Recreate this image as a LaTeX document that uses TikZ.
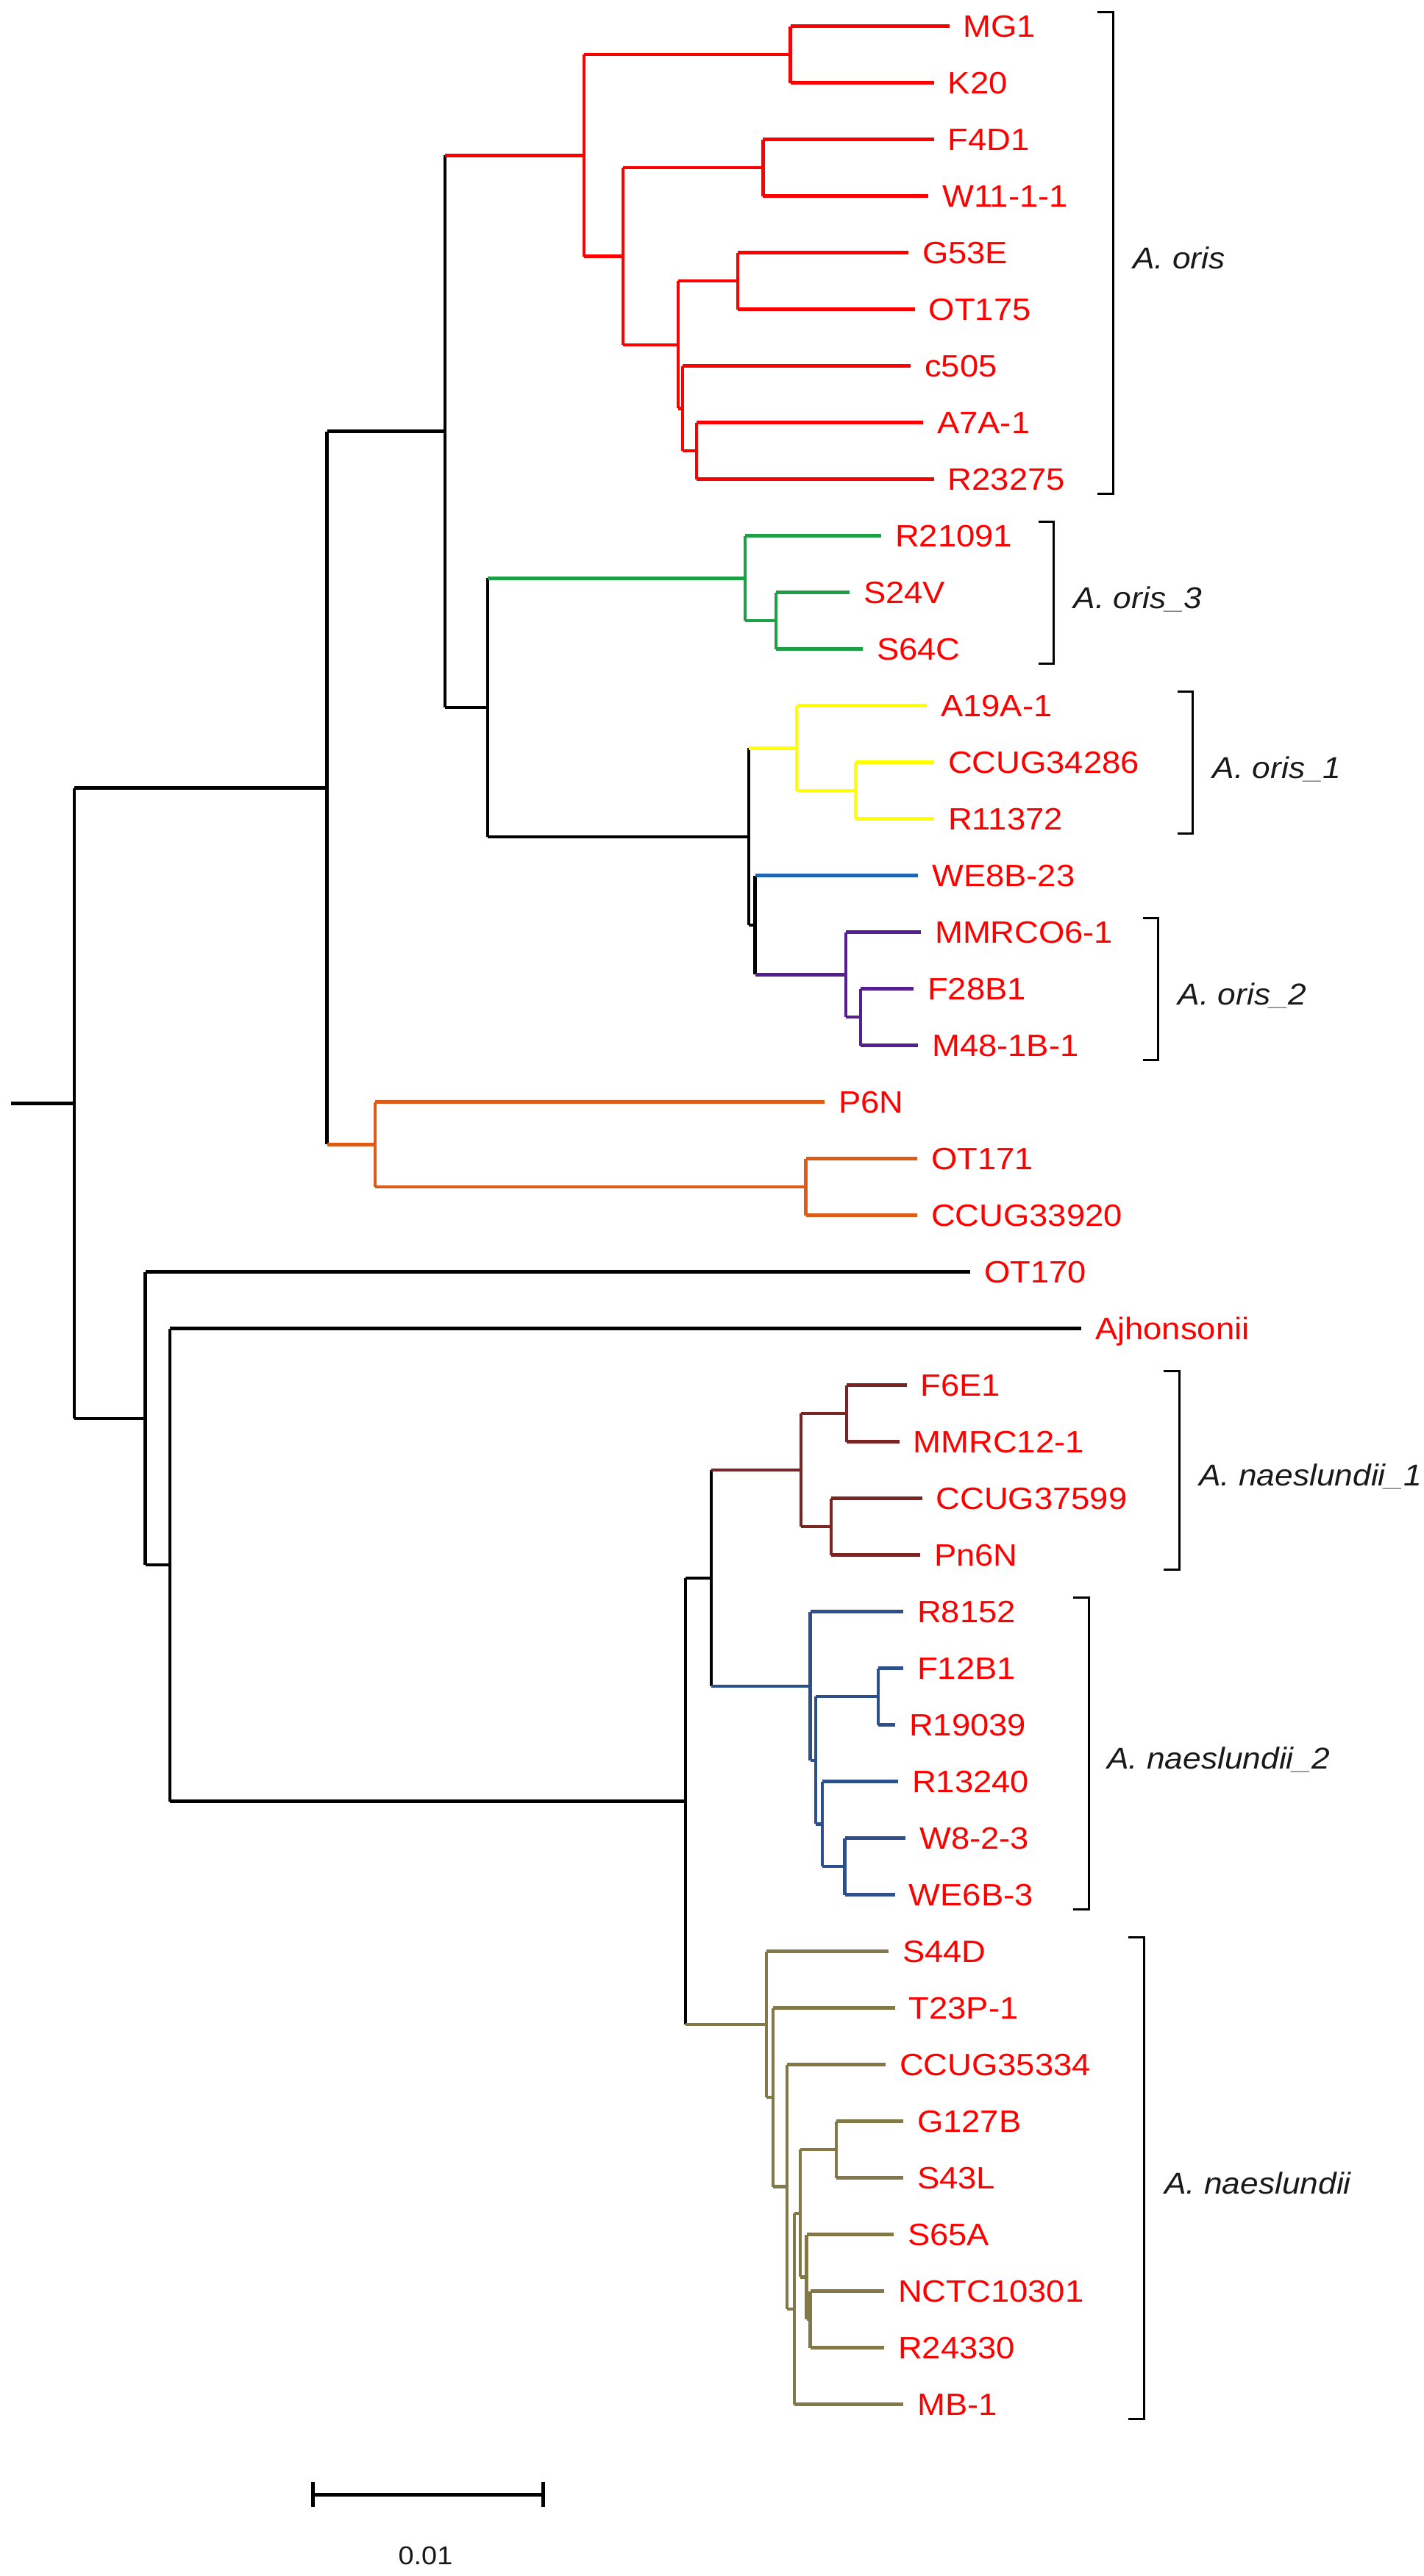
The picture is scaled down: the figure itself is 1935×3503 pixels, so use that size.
\documentclass[tikz,border=0pt]{standalone}
\usepackage{fontspec}
\setmainfont{Liberation Sans}[FakeStretch=1.08]
\usetikzlibrary{calc}
\definecolor{cred}{RGB}{255,0,0}
\definecolor{cgreen}{RGB}{30,160,70}
\definecolor{cyellow}{RGB}{255,255,0}
\definecolor{csteel}{RGB}{30,100,180}
\definecolor{cpurple}{RGB}{85,30,145}
\definecolor{corange}{RGB}{222,92,25}
\definecolor{cbrown}{RGB}{122,36,36}
\definecolor{cnavy}{RGB}{45,80,140}
\definecolor{colive}{RGB}{130,120,72}
\definecolor{ctext}{RGB}{25,25,25}
\newcommand{\vb}[4]{\draw[br,#1,line cap=square] (#2 |- #3) -- (#2 |- #4);}
\newcommand{\hb}[3]{\draw[br,#1] (#2 |- #3) -- (#3);}
\newcommand{\usc}{\textcolor{gray}{\_}}
\begin{document}
\begin{tikzpicture}[x=1pt,y=-1pt,
  br/.style={line width=4.5pt},
  lab/.style={anchor=base west,inner sep=0pt,text=cred,font=\fontsize{42}{48}\selectfont},
  clade/.style={anchor=base west,inner sep=0pt,text=ctext,font=\fontsize{41}{48}\selectfont\itshape},
  brk/.style={line width=3pt,black}]
\useasboundingbox (0,0) rectangle (1935,3503);
% leaves
\coordinate (L0) at (1290.6,35.7);
\coordinate (L1) at (1269.6,112.7);
\coordinate (L2) at (1269.6,189.7);
\coordinate (L3) at (1262,266.7);
\coordinate (L4) at (1235,343.7);
\coordinate (L5) at (1243.6,420.7);
\coordinate (L6) at (1238,497.7);
\coordinate (L7) at (1255,574.7);
\coordinate (L8) at (1269.6,651.7);
\coordinate (L9) at (1198,728.7);
\coordinate (L10) at (1155,805.7);
\coordinate (L11) at (1173,882.7);
\coordinate (L12) at (1260,959.7);
\coordinate (L13) at (1270,1036.7);
\coordinate (L14) at (1270,1113.7);
\coordinate (L15) at (1248,1190.7);
\coordinate (L16) at (1252,1267.7);
\coordinate (L17) at (1242,1344.7);
\coordinate (L18) at (1248,1421.7);
\coordinate (L19) at (1121,1498.7);
\coordinate (L20) at (1247,1575.7);
\coordinate (L21) at (1247,1652.7);
\coordinate (L22) at (1319,1729.7);
\coordinate (L23) at (1470,1806.7);
\coordinate (L24) at (1232.5,1883.7);
\coordinate (L25) at (1222.6,1960.7);
\coordinate (L26) at (1253.5,2037.7);
\coordinate (L27) at (1251,2114.7);
\coordinate (L28) at (1228,2191.7);
\coordinate (L29) at (1228,2268.7);
\coordinate (L30) at (1217,2345.7);
\coordinate (L31) at (1221,2422.7);
\coordinate (L32) at (1231,2499.7);
\coordinate (L33) at (1216.5,2576.7);
\coordinate (L34) at (1208,2653.7);
\coordinate (L35) at (1216.5,2730.7);
\coordinate (L36) at (1204,2807.7);
\coordinate (L37) at (1228,2884.7);
\coordinate (L38) at (1228,2961.7);
\coordinate (L39) at (1215,3038.7);
\coordinate (L40) at (1202,3115.7);
\coordinate (L41) at (1202,3192.7);
\coordinate (L42) at (1228,3269.7);
% internal nodes
\coordinate (r1) at (1074.5,74.2);
\coordinate (r2) at (1037.4,228.2);
\coordinate (r3) at (1003,382.2);
\coordinate (r5) at (947,613.2);
\coordinate (r4) at (928,555.45);
\coordinate (r6) at (922,468.8);
\coordinate (r7) at (847,348.5);
\coordinate (r8) at (794,211.35);
\coordinate (g1) at (1055,844.2);
\coordinate (g2) at (1013,786.45);
\coordinate (y1) at (1163,1075.2);
\coordinate (y2) at (1083,1017.45);
\coordinate (p1) at (1170,1383.2);
\coordinate (p2) at (1150,1325.45);
\coordinate (k1) at (1026.7,1258.1);
\coordinate (k2) at (1018,1137.8);
\coordinate (k3) at (663,962.1);
\coordinate (k4) at (605,586.7);
\coordinate (o1) at (1095.5,1614.2);
\coordinate (o2) at (510,1556.45);
\coordinate (k5) at (444.6,1071.6);
\coordinate (b1) at (1151,1922.2);
\coordinate (b2) at (1130,2076.2);
\coordinate (b3) at (1089,1999.2);
\coordinate (d1) at (1194,2307.2);
\coordinate (d2) at (1148.5,2538.2);
\coordinate (d3) at (1118,2480.45);
\coordinate (d4) at (1109,2393.8);
\coordinate (d5) at (1101.7,2292.75);
\coordinate (k6) at (967,2146);
\coordinate (v1) at (1137,2923.2);
\coordinate (v2) at (1101.7,3154.2);
\coordinate (v3) at (1096.7,3096.45);
\coordinate (v4) at (1088,3009.8);
\coordinate (v5) at (1080,3139.75);
\coordinate (v6) at (1070,2973.7);
\coordinate (v7) at (1051,2852.2);
\coordinate (v8) at (1042,2752.95);
\coordinate (k7) at (932,2449.5);
\coordinate (k8) at (231,2128.1);
\coordinate (k9) at (197.6,1928.9);
\coordinate (rt) at (101,1500.25);
\coordinate (r0) at (15,1500.25);
% red clade
\vb{cred}{r1}{L0}{L1} \hb{cred}{r1}{L0} \hb{cred}{r1}{L1}
\vb{cred}{r2}{L2}{L3} \hb{cred}{r2}{L2} \hb{cred}{r2}{L3}
\vb{cred}{r3}{L4}{L5} \hb{cred}{r3}{L4} \hb{cred}{r3}{L5}
\vb{cred}{r5}{L7}{L8} \hb{cred}{r5}{L7} \hb{cred}{r5}{L8}
\vb{cred}{r4}{L6}{r5} \hb{cred}{r4}{L6} \hb{cred}{r4}{r5}
\vb{cred}{r6}{r3}{r4} \hb{cred}{r6}{r3} \hb{cred}{r6}{r4}
\vb{cred}{r7}{r2}{r6} \hb{cred}{r7}{r2} \hb{cred}{r7}{r6}
\vb{cred}{r8}{r1}{r7} \hb{cred}{r8}{r1} \hb{cred}{r8}{r7}
% green
\vb{cgreen}{g1}{L10}{L11} \hb{cgreen}{g1}{L10} \hb{cgreen}{g1}{L11}
\vb{cgreen}{g2}{L9}{g1} \hb{cgreen}{g2}{L9} \hb{cgreen}{g2}{g1}
% yellow
\vb{cyellow}{y1}{L13}{L14} \hb{cyellow}{y1}{L13} \hb{cyellow}{y1}{L14}
\vb{cyellow}{y2}{L12}{y1} \hb{cyellow}{y2}{L12} \hb{cyellow}{y2}{y1}
% purple
\vb{cpurple}{p1}{L17}{L18} \hb{cpurple}{p1}{L17} \hb{cpurple}{p1}{L18}
\vb{cpurple}{p2}{L16}{p1} \hb{cpurple}{p2}{L16} \hb{cpurple}{p2}{p1}
% black backbone top
\vb{black}{k1}{L15}{p2} \hb{csteel}{k1}{L15} \hb{cpurple}{k1}{p2}
\vb{black}{k2}{y2}{k1} \hb{cyellow}{k2}{y2} \hb{black}{k2}{k1}
\vb{black}{k3}{g2}{k2} \hb{cgreen}{k3}{g2} \hb{black}{k3}{k2}
\vb{black}{k4}{r8}{k3} \hb{cred}{k4}{r8} \hb{black}{k4}{k3}
% orange
\vb{corange}{o1}{L20}{L21} \hb{corange}{o1}{L20} \hb{corange}{o1}{L21}
\vb{corange}{o2}{L19}{o1} \hb{corange}{o2}{L19} \hb{corange}{o2}{o1}
\vb{black}{k5}{k4}{o2} \hb{black}{k5}{k4} \hb{corange}{k5}{o2}
% brown
\vb{cbrown}{b1}{L24}{L25} \hb{cbrown}{b1}{L24} \hb{cbrown}{b1}{L25}
\vb{cbrown}{b2}{L26}{L27} \hb{cbrown}{b2}{L26} \hb{cbrown}{b2}{L27}
\vb{cbrown}{b3}{b1}{b2} \hb{cbrown}{b3}{b1} \hb{cbrown}{b3}{b2}
% navy
\vb{cnavy}{d1}{L29}{L30} \hb{cnavy}{d1}{L29} \hb{cnavy}{d1}{L30}
\vb{cnavy}{d2}{L32}{L33} \hb{cnavy}{d2}{L32} \hb{cnavy}{d2}{L33}
\vb{cnavy}{d3}{L31}{d2} \hb{cnavy}{d3}{L31} \hb{cnavy}{d3}{d2}
\vb{cnavy}{d4}{d1}{d3} \hb{cnavy}{d4}{d1} \hb{cnavy}{d4}{d3}
\vb{cnavy}{d5}{L28}{d4} \hb{cnavy}{d5}{L28} \hb{cnavy}{d5}{d4}
\vb{black}{k6}{b3}{d5} \hb{cbrown}{k6}{b3} \hb{cnavy}{k6}{d5}
% olive
\vb{colive}{v1}{L37}{L38} \hb{colive}{v1}{L37} \hb{colive}{v1}{L38}
\vb{colive}{v2}{L40}{L41} \hb{colive}{v2}{L40} \hb{colive}{v2}{L41}
\vb{colive}{v3}{L39}{v2} \hb{colive}{v3}{L39} \hb{colive}{v3}{v2}
\vb{colive}{v4}{v1}{v3} \hb{colive}{v4}{v1} \hb{colive}{v4}{v3}
\vb{colive}{v5}{v4}{L42} \hb{colive}{v5}{v4} \hb{colive}{v5}{L42}
\vb{colive}{v6}{L36}{v5} \hb{colive}{v6}{L36} \hb{colive}{v6}{v5}
\vb{colive}{v7}{L35}{v6} \hb{colive}{v7}{L35} \hb{colive}{v7}{v6}
\vb{colive}{v8}{L34}{v7} \hb{colive}{v8}{L34} \hb{colive}{v8}{v7}
% black backbone bottom
\vb{black}{k7}{k6}{v8} \hb{black}{k7}{k6} \hb{colive}{k7}{v8}
\vb{black}{k8}{L23}{k7} \hb{black}{k8}{L23} \hb{black}{k8}{k7}
\vb{black}{k9}{L22}{k8} \hb{black}{k9}{L22} \hb{black}{k9}{k8}
\vb{black}{rt}{k5}{k9} \hb{black}{rt}{k5} \hb{black}{rt}{k9}
\draw[br,black] (r0) -- (rt);
% labels
\node[lab] (T0) at ($(L0)+(19,15)$) {MG1};
\node[lab] (T1) at ($(L1)+(19,15)$) {K20};
\node[lab] (T2) at ($(L2)+(19,15)$) {F4D1};
\node[lab] (T3) at ($(L3)+(19,15)$) {W11-1-1};
\node[lab] (T4) at ($(L4)+(19,15)$) {G53E};
\node[lab] (T5) at ($(L5)+(19,15)$) {OT175};
\node[lab] (T6) at ($(L6)+(19,15)$) {c505};
\node[lab] (T7) at ($(L7)+(19,15)$) {A7A-1};
\node[lab] (T8) at ($(L8)+(19,15)$) {R23275};
\node[lab] (T9) at ($(L9)+(19,15)$) {R21091};
\node[lab] (T10) at ($(L10)+(19,15)$) {S24V};
\node[lab] (T11) at ($(L11)+(19,15)$) {S64C};
\node[lab] (T12) at ($(L12)+(19,15)$) {A19A-1};
\node[lab] (T13) at ($(L13)+(19,15)$) {CCUG34286};
\node[lab] (T14) at ($(L14)+(19,15)$) {R11372};
\node[lab] (T15) at ($(L15)+(19,15)$) {WE8B-23};
\node[lab] (T16) at ($(L16)+(19,15)$) {MMRCO6-1};
\node[lab] (T17) at ($(L17)+(19,15)$) {F28B1};
\node[lab] (T18) at ($(L18)+(19,15)$) {M48-1B-1};
\node[lab] (T19) at ($(L19)+(19,15)$) {P6N};
\node[lab] (T20) at ($(L20)+(19,15)$) {OT171};
\node[lab] (T21) at ($(L21)+(19,15)$) {CCUG33920};
\node[lab] (T22) at ($(L22)+(19,15)$) {OT170};
\node[lab] (T23) at ($(L23)+(19,15)$) {Ajhonsonii};
\node[lab] (T24) at ($(L24)+(19,15)$) {F6E1};
\node[lab] (T25) at ($(L25)+(19,15)$) {MMRC12-1};
\node[lab] (T26) at ($(L26)+(19,15)$) {CCUG37599};
\node[lab] (T27) at ($(L27)+(19,15)$) {Pn6N};
\node[lab] (T28) at ($(L28)+(19,15)$) {R8152};
\node[lab] (T29) at ($(L29)+(19,15)$) {F12B1};
\node[lab] (T30) at ($(L30)+(19,15)$) {R19039};
\node[lab] (T31) at ($(L31)+(19,15)$) {R13240};
\node[lab] (T32) at ($(L32)+(19,15)$) {W8-2-3};
\node[lab] (T33) at ($(L33)+(19,15)$) {WE6B-3};
\node[lab] (T34) at ($(L34)+(19,15)$) {S44D};
\node[lab] (T35) at ($(L35)+(19,15)$) {T23P-1};
\node[lab] (T36) at ($(L36)+(19,15)$) {CCUG35334};
\node[lab] (T37) at ($(L37)+(19,15)$) {G127B};
\node[lab] (T38) at ($(L38)+(19,15)$) {S43L};
\node[lab] (T39) at ($(L39)+(19,15)$) {S65A};
\node[lab] (T40) at ($(L40)+(19,15)$) {NCTC10301};
\node[lab] (T41) at ($(L41)+(19,15)$) {R24330};
\node[lab] (T42) at ($(L42)+(19,15)$) {MB-1};
% brackets
\coordinate (B1t) at (1513,16.2);   \coordinate (B1b) at (1513,671.2);
\coordinate (B2t) at (1432.6,709.2); \coordinate (B2b) at (1432.6,902.2);
\coordinate (B3t) at (1621.6,940.2); \coordinate (B3b) at (1621.6,1133.2);
\coordinate (B4t) at (1574.6,1248.2); \coordinate (B4b) at (1574.6,1441.2);
\coordinate (B5t) at (1603,1864.2); \coordinate (B5b) at (1603,2134.2);
\coordinate (B6t) at (1480,2172.2); \coordinate (B6b) at (1480,2596.2);
\coordinate (B7t) at (1555,2634.2); \coordinate (B7b) at (1555,3289.2);
\foreach \i in {1,...,7}{
  \draw[brk] ($(B\i t)+(-21,0)$) -- (B\i t) -- (B\i b) -- ($(B\i b)+(-21,0)$);
}
\node[clade] (C1) at ($(B1t)!0.5!(B1b)+(27,21.5)$) {A. oris};
\node[clade] (C2) at ($(B2t)!0.5!(B2b)+(27,21.5)$) {A. oris\usc 3};
\node[clade] (C3) at ($(B3t)!0.5!(B3b)+(27,21.5)$) {A. oris\usc 1};
\node[clade] (C4) at ($(B4t)!0.5!(B4b)+(27,21.5)$) {A. oris\usc 2};
\node[clade] (C5) at ($(B5t)!0.5!(B5b)+(27,21.5)$) {A. naeslundii\usc 1};
\node[clade] (C6) at ($(B6t)!0.5!(B6b)+(25,21.5)$) {A. naeslundii\usc 2};
\node[clade] (C7) at ($(B7t)!0.5!(B7b)+(28,21.5)$) {A. naeslundii};
% scale bar
\coordinate (S1) at (425,3392);
\coordinate (S2) at (738,3392);
\draw[line width=5pt,black] (S1) -- (S2);
\draw[line width=5pt,black] ($(S1)+(0,-17)$) -- ($(S1)+(0,17)$);
\draw[line width=5pt,black] ($(S2)+(0,-17)$) -- ($(S2)+(0,17)$);
\node[anchor=base,inner sep=0pt,text=ctext,font=\fontsize{35}{40}\selectfont] (SL) at ($(S1)!0.5!(S2)+(-3,95)$) {0.01};
\end{tikzpicture}
\end{document}
